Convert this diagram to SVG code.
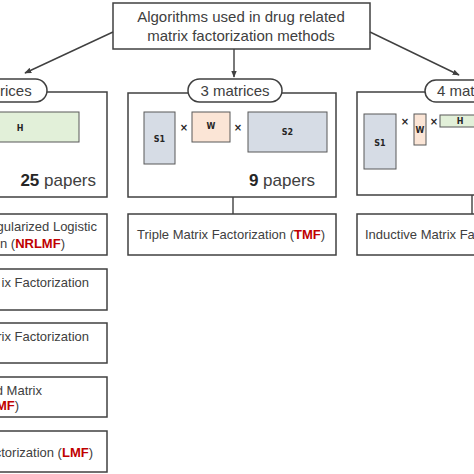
<svg xmlns="http://www.w3.org/2000/svg" width="474" height="474" viewBox="0 0 474 474">
  <defs>
    <marker id="arrow" viewBox="0 0 10 10" refX="9" refY="5" markerWidth="7" markerHeight="7" orient="auto" markerUnits="userSpaceOnUse">
      <path d="M0,1 L10,5 L0,9 Z" fill="#404040"/>
    </marker>
    <style>
      .box { fill: #ffffff; stroke: #404040; stroke-width: 1.5; }
      .frame { fill: none; stroke: #404040; stroke-width: 1.5; }
      .pill { fill: #ffffff; stroke: #404040; stroke-width: 1.5; }
      .link { fill: none; stroke: #404040; stroke-width: 1.4; }
      .txt { font-family: "Liberation Sans", Arial, sans-serif; fill: #404040; }
      .title { font-size: 15px; text-anchor: middle; }
      .pilltxt { font-size: 15px; }
      .papers { font-size: 17px; }
      .item { font-size: 13px; }
      .red { fill: #c00000; font-weight: bold; }
      .b { font-weight: bold; fill: #262626; }
      .s { fill: #d6dce5; stroke: #595959; stroke-width: 1; }
      .w { fill: #fbe5d6; stroke: #595959; stroke-width: 1; }
      .h { fill: #e2f0d9; stroke: #595959; stroke-width: 1; }
      .mlab { font-family: "DejaVu Sans", Verdana, sans-serif; font-size: 8px; font-weight: bold; fill: #262626; text-anchor: middle; }
      .times { font-family: "DejaVu Sans", Verdana, sans-serif; font-size: 10px; font-weight: bold; fill: #262626; text-anchor: middle; }
    </style>
  </defs>

  <!-- root -->
  <g id="root">
    <rect class="box" x="113" y="3" width="257" height="46"/>
    <text class="txt title" x="241" y="22">Algorithms used in drug related</text>
    <text class="txt title" x="241" y="41">matrix factorization methods</text>
  </g>

  <!-- connectors -->
  <g id="connectors">
    <line class="link" x1="113" y1="32" x2="25" y2="73" marker-end="url(#arrow)"/>
    <line class="link" x1="234" y1="49" x2="234" y2="77" marker-end="url(#arrow)"/>
    <line class="link" x1="370" y1="32" x2="459" y2="75" marker-end="url(#arrow)"/>
    <line class="link" x1="233" y1="197" x2="233" y2="214"/>
    <line class="link" x1="472" y1="195" x2="472" y2="214" stroke-width="2"/>
  </g>

  <!-- two-matrix panel -->
  <g id="panel-2">
    <polyline class="frame" points="40,92 107,92 107,197 -2,197"/>
    <rect class="pill" x="-60" y="79" width="107" height="23" rx="11.5"/>
    <text class="txt pilltxt" x="0" y="96">rices</text>
    <rect class="h" x="-10" y="112" width="89" height="30"/>
    <text class="mlab" x="20" y="131">H</text>
    <text class="txt papers" x="96" y="186" text-anchor="end"><tspan class="b">25</tspan> papers</text>
  </g>

  <!-- three-matrix panel -->
  <g id="panel-3">
    <rect class="frame" x="128" y="93" width="208" height="104"/>
    <rect class="pill" x="188" y="79" width="94" height="23" rx="11.5"/>
    <text class="txt pilltxt" x="235" y="96" text-anchor="middle">3 matrices</text>
    <rect class="s" x="144" y="112" width="31" height="52"/>
    <text class="mlab" x="159.5" y="142">S1</text>
    <text class="times" x="184" y="131">×</text>
    <rect class="w" x="192" y="112" width="38" height="30"/>
    <text class="mlab" x="211" y="129">W</text>
    <text class="times" x="238" y="131">×</text>
    <rect class="s" x="248" y="112" width="79" height="40"/>
    <text class="mlab" x="287.5" y="135">S2</text>
    <text class="txt papers" x="282" y="186" text-anchor="middle"><tspan class="b">9</tspan> papers</text>
  </g>

  <!-- four-matrix panel -->
  <g id="panel-4">
    <polyline class="frame" points="440,92 357,92 357,195 480,195"/>
    <rect class="pill" x="425" y="80" width="80" height="22" rx="11"/>
    <text class="txt pilltxt" x="437" y="96">4 mat</text>
    <rect class="s" x="364" y="114" width="32" height="55"/>
    <text class="mlab" x="380" y="146">S1</text>
    <text class="times" x="405" y="125">×</text>
    <rect class="w" x="414" y="114" width="12" height="31"/>
    <text class="mlab" x="420" y="133">W</text>
    <text class="times" x="434" y="125">×</text>
    <rect class="h" x="440" y="115" width="45" height="12"/>
    <text class="mlab" x="460" y="124">H</text>
  </g>

  <!-- method boxes -->
  <g id="tmf">
    <rect class="box" x="128" y="214" width="208" height="41"/>
    <text class="txt item" x="137" y="239">Triple Matrix Factorization (<tspan class="red">TMF</tspan>)</text>
  </g>

  <g id="imf">
    <rect class="box" x="357" y="214" width="130" height="41"/>
    <text class="txt item" x="365" y="239">Inductive Matrix Fa</text>
  </g>

  <g id="nrlmf">
    <rect class="box" x="-10" y="214" width="117" height="41"/>
    <text class="txt item" x="97" y="231" text-anchor="end">gularized Logistic</text>
    <text class="txt item" x="65" y="248" text-anchor="end">n (<tspan class="red">NRLMF</tspan>)</text>
  </g>

  <g id="mf-a">
    <rect class="box" x="-10" y="269" width="117" height="41"/>
    <text class="txt item" x="89" y="287" text-anchor="end">ix Factorization</text>
  </g>

  <g id="mf-b">
    <rect class="box" x="-10" y="323" width="117" height="40"/>
    <text class="txt item" x="89" y="341" text-anchor="end">rix Factorization</text>
  </g>

  <g id="rmf">
    <rect class="box" x="-10" y="377" width="117" height="40"/>
    <text class="txt item" x="42" y="395" text-anchor="end">d Matrix</text>
    <text class="txt item" x="19" y="410" text-anchor="end"><tspan class="red">MF</tspan>)</text>
  </g>

  <g id="lmf">
    <rect class="box" x="-10" y="431" width="117" height="41"/>
    <text class="txt item" x="93" y="457" text-anchor="end">ctorization (<tspan class="red">LMF</tspan>)</text>
  </g>
</svg>
